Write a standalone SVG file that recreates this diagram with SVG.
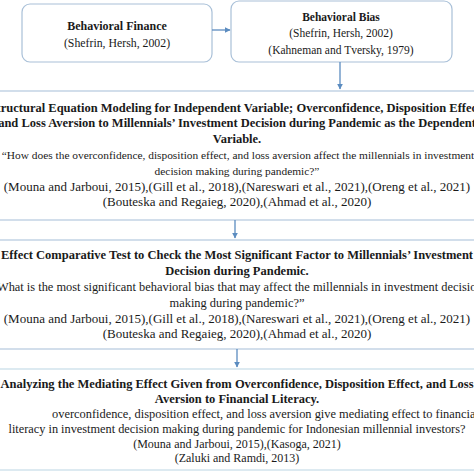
<svg xmlns="http://www.w3.org/2000/svg" width="474" height="474" viewBox="0 0 474 474">
<defs>
<marker id="ah" viewBox="0 0 10 10" refX="9" refY="5" markerWidth="6" markerHeight="6" orient="auto" markerUnits="userSpaceOnUse">
<path d="M0,0 L10,5 L0,10 z" fill="#5b8cc0"/>
</marker>
<style>
.t{font-family:"Liberation Serif","Times New Roman",serif;fill:#1a1a1a;text-anchor:middle}
.b{font-weight:bold}
.top{fill:#fff;stroke:#a9c0d8;stroke-width:1.2}
.big{fill:#fff;stroke:#b4c9de;stroke-width:1.2}
.c{stroke:#5b8cc0;stroke-width:1.3;fill:none;marker-end:url(#ah)}
</style>
</defs>
<rect width="474" height="474" fill="#fff"/>
<g id="n-behavioral-finance">
<rect class="top" x="22" y="4" width="190" height="58" rx="8"/>
<text class="t b" x="117" y="30" font-size="12">Behavioral Finance</text>
<text class="t" x="117" y="47" font-size="11.8">(Shefrin, Hersh, 2002)</text>
</g>
<g id="n-behavioral-bias">
<rect class="top" x="231" y="1" width="221" height="61" rx="8"/>
<text class="t b" x="341" y="21" font-size="11.5">Behavioral Bias</text>
<text class="t" x="341" y="37" font-size="11.5">(Shefrin, Hersh, 2002)</text>
<text class="t" x="341" y="54" font-size="11.5">(Kahneman and Tversky, 1979)</text>
</g>
<g id="n-sem">
<rect class="big" x="-10" y="91" width="494" height="129"/>
<text class="t b" x="237" y="111.5" font-size="12.5">Structural Equation Modeling for Independent Variable; Overconfidence, Disposition Effect,</text>
<text class="t b" x="237" y="127.3" font-size="12.5">and Loss Aversion to Millennials’ Investment Decision during Pandemic as the Dependent</text>
<text class="t b" x="237" y="143.1" font-size="12.5">Variable.</text>
<text class="t" x="238" y="158.9" font-size="11.4">“How does the overconfidence, disposition effect, and loss aversion affect the millennials in investment</text>
<text class="t" x="237" y="174.7" font-size="11.4">decision making during pandemic?”</text>
<text class="t" x="237" y="190.5" font-size="13">(Mouna and Jarboui, 2015),(Gill et al., 2018),(Nareswari et al., 2021),(Oreng et al., 2021)</text>
<text class="t" x="237" y="206.3" font-size="13">(Bouteska and Regaieg, 2020),(Ahmad et al., 2020)</text>
</g>
<g id="n-comparative">
<rect class="big" x="-10" y="240" width="494" height="109"/>
<text class="t b" x="237" y="258.5" font-size="12.5">Effect Comparative Test to Check the Most Significant Factor to Millennials’ Investment</text>
<text class="t b" x="237" y="274.5" font-size="12.5">Decision during Pandemic.</text>
<text class="t" x="237" y="290.5" font-size="12.4">“What is the most significant behavioral bias that may affect the millennials in investment decision</text>
<text class="t" x="237" y="306.5" font-size="12.4">making during pandemic?”</text>
<text class="t" x="237" y="322.5" font-size="13">(Mouna and Jarboui, 2015),(Gill et al., 2018),(Nareswari et al., 2021),(Oreng et al., 2021)</text>
<text class="t" x="237" y="338" font-size="13">(Bouteska and Regaieg, 2020),(Ahmad et al., 2020)</text>
</g>
<g id="n-mediating">
<rect class="big" x="-10" y="369" width="494" height="101" style="stroke:#c6dde8"/>
<text class="t b" x="237" y="387.5" font-size="12.5">Analyzing the Mediating Effect Given from Overconfidence, Disposition Effect, and Loss</text>
<text class="t b" x="237" y="402.5" font-size="12.5">Aversion to Financial Literacy.</text>
<text class="t" x="52" y="417.5" font-size="12.4" style="text-anchor:start">overconfidence, disposition effect, and loss aversion give mediating effect to financial</text>
<text class="t" x="237" y="432.5" font-size="12.3">literacy in investment decision making during pandemic for Indonesian millennial investors?</text>
<text class="t" x="237" y="447.5" font-size="12">(Mouna and Jarboui, 2015),(Kasoga, 2021)</text>
<text class="t" x="237" y="462" font-size="12">(Zaluki and Ramdi, 2013)</text>
</g>
<g id="connectors">
<line class="c" x1="212" y1="30" x2="230" y2="30"/>
<line class="c" x1="340" y1="62" x2="340" y2="89"/>
<line class="c" x1="235" y1="220" x2="235" y2="238"/>
<line class="c" x1="237" y1="349" x2="237" y2="367"/>
</g>
</svg>
